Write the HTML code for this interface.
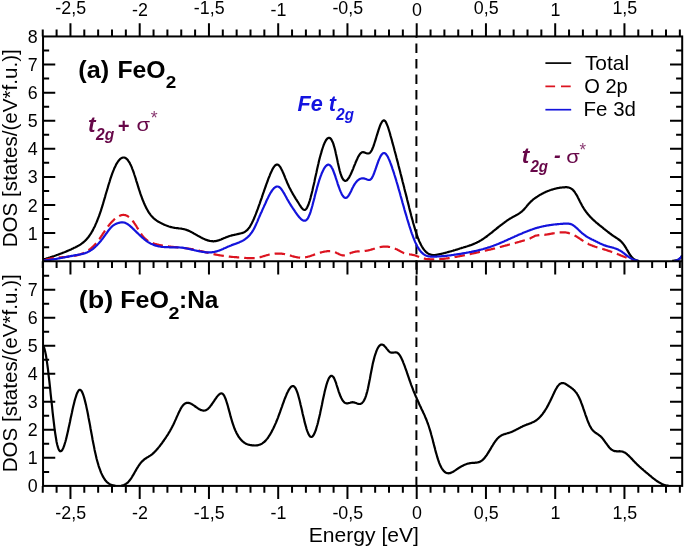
<!DOCTYPE html>
<html><head><meta charset="utf-8"><title>DOS FeO2</title>
<style>
html,body{margin:0;padding:0;background:#fff;}
body{width:685px;height:549px;overflow:hidden;}
svg{display:block;}
text{font-family:"Liberation Sans",sans-serif;fill:#000;}
.tk text{font-size:18.3px;}
.bi{font-weight:bold;font-style:italic;}
</style></head><body>
<svg width="685" height="549" viewBox="0 0 685 549">
<rect width="685" height="549" fill="#fff"/>
<!-- dashed fermi line -->
<path d="M416.4,36.45 V485.9" stroke="#000" stroke-width="2" stroke-dasharray="9.6 5.873" stroke-dashoffset="8.4" fill="none"/>
<!-- curves panel a -->
<g fill="none" stroke-width="2.2" stroke-linejoin="round">
<path d="M43.6,259.3 L44.3,259.2 L44.9,259.0 L45.6,258.8 L46.3,258.6 L46.9,258.4 L47.6,258.2 L48.3,257.9 L48.9,257.7 L49.6,257.5 L50.3,257.3 L50.9,257.1 L51.6,256.9 L52.3,256.7 L52.9,256.4 L53.6,256.2 L54.3,256.0 L54.9,255.8 L55.6,255.5 L56.3,255.3 L56.9,255.0 L57.6,254.8 L58.3,254.6 L58.9,254.3 L59.6,254.1 L60.3,253.8 L60.9,253.6 L61.6,253.3 L62.3,253.1 L62.9,252.8 L63.6,252.5 L64.3,252.3 L65.0,252.0 L65.6,251.7 L66.3,251.4 L67.0,251.1 L67.6,250.9 L68.3,250.6 L69.0,250.3 L69.6,250.0 L70.3,249.7 L71.0,249.4 L71.6,249.1 L72.3,248.8 L73.0,248.5 L73.6,248.1 L74.3,247.8 L75.0,247.5 L75.6,247.2 L76.3,246.8 L77.0,246.5 L77.6,246.1 L78.3,245.8 L79.0,245.4 L79.6,245.0 L80.3,244.6 L81.0,244.1 L81.6,243.7 L82.3,243.2 L83.0,242.7 L83.6,242.1 L84.3,241.5 L85.0,240.9 L85.6,240.3 L86.3,239.6 L87.0,238.8 L87.6,238.0 L88.3,237.2 L89.0,236.3 L89.6,235.4 L90.3,234.4 L91.0,233.4 L91.6,232.3 L92.3,231.1 L93.0,229.9 L93.6,228.6 L94.3,227.3 L95.0,225.9 L95.6,224.4 L96.3,222.9 L97.0,221.3 L97.6,219.7 L98.3,217.9 L99.0,216.2 L99.6,214.3 L100.3,212.4 L101.0,210.4 L101.6,208.3 L102.3,206.1 L103.0,203.9 L103.6,201.7 L104.3,199.4 L105.0,197.1 L105.6,194.8 L106.3,192.5 L107.0,190.2 L107.7,187.9 L108.3,185.7 L109.0,183.5 L109.7,181.3 L110.3,179.2 L111.0,177.2 L111.7,175.2 L112.3,173.4 L113.0,171.6 L113.7,169.9 L114.3,168.3 L115.0,166.9 L115.7,165.5 L116.3,164.2 L117.0,163.1 L117.7,162.0 L118.3,161.1 L119.0,160.2 L119.7,159.5 L120.3,158.9 L121.0,158.4 L121.7,158.0 L122.3,157.7 L123.0,157.5 L123.7,157.5 L124.3,157.6 L125.0,157.8 L125.7,158.1 L126.3,158.6 L127.0,159.2 L127.7,159.9 L128.3,160.8 L129.0,161.8 L129.7,162.9 L130.3,164.2 L131.0,165.6 L131.7,167.1 L132.3,168.8 L133.0,170.6 L133.7,172.5 L134.3,174.5 L135.0,176.5 L135.7,178.6 L136.3,180.8 L137.0,182.9 L137.7,185.1 L138.3,187.2 L139.0,189.4 L139.7,191.4 L140.3,193.4 L141.0,195.3 L141.7,197.2 L142.3,199.0 L143.0,200.7 L143.7,202.3 L144.3,203.8 L145.0,205.3 L145.7,206.7 L146.3,208.1 L147.0,209.3 L147.7,210.5 L148.3,211.6 L149.0,212.7 L149.7,213.6 L150.4,214.6 L151.0,215.4 L151.7,216.2 L152.4,216.9 L153.0,217.6 L153.7,218.3 L154.4,218.8 L155.0,219.4 L155.7,219.9 L156.4,220.4 L157.0,220.8 L157.7,221.3 L158.4,221.7 L159.0,222.0 L159.7,222.4 L160.4,222.8 L161.0,223.1 L161.7,223.4 L162.4,223.8 L163.0,224.1 L163.7,224.4 L164.4,224.7 L165.0,225.0 L165.7,225.3 L166.4,225.5 L167.0,225.8 L167.7,226.0 L168.4,226.3 L169.0,226.5 L169.7,226.7 L170.4,226.9 L171.0,227.1 L171.7,227.2 L172.4,227.4 L173.0,227.5 L173.7,227.7 L174.4,227.8 L175.0,227.9 L175.7,228.0 L176.4,228.1 L177.0,228.1 L177.7,228.2 L178.4,228.3 L179.0,228.4 L179.7,228.5 L180.4,228.5 L181.0,228.6 L181.7,228.7 L182.4,228.9 L183.0,229.0 L183.7,229.1 L184.4,229.3 L185.0,229.5 L185.7,229.6 L186.4,229.9 L187.0,230.1 L187.7,230.4 L188.4,230.6 L189.0,230.9 L189.7,231.3 L190.4,231.6 L191.0,231.9 L191.7,232.3 L192.4,232.6 L193.1,233.0 L193.7,233.4 L194.4,233.7 L195.1,234.1 L195.7,234.5 L196.4,234.9 L197.1,235.3 L197.7,235.7 L198.4,236.0 L199.1,236.4 L199.7,236.8 L200.4,237.1 L201.1,237.5 L201.7,237.8 L202.4,238.2 L203.1,238.5 L203.7,238.8 L204.4,239.1 L205.1,239.4 L205.7,239.7 L206.4,239.9 L207.1,240.1 L207.7,240.4 L208.4,240.6 L209.1,240.7 L209.7,240.9 L210.4,241.0 L211.1,241.1 L211.7,241.2 L212.4,241.2 L213.1,241.3 L213.7,241.3 L214.4,241.2 L215.1,241.1 L215.7,241.1 L216.4,240.9 L217.1,240.8 L217.7,240.6 L218.4,240.4 L219.1,240.2 L219.7,239.9 L220.4,239.7 L221.1,239.4 L221.7,239.1 L222.4,238.9 L223.1,238.6 L223.7,238.3 L224.4,238.0 L225.1,237.7 L225.7,237.4 L226.4,237.2 L227.1,236.9 L227.7,236.7 L228.4,236.4 L229.1,236.2 L229.7,236.0 L230.4,235.8 L231.1,235.6 L231.7,235.4 L232.4,235.3 L233.1,235.1 L233.7,235.0 L234.4,234.8 L235.1,234.7 L235.8,234.5 L236.4,234.4 L237.1,234.2 L237.8,234.1 L238.4,233.9 L239.1,233.8 L239.8,233.6 L240.4,233.5 L241.1,233.3 L241.8,233.1 L242.4,232.9 L243.1,232.7 L243.8,232.4 L244.4,232.1 L245.1,231.7 L245.8,231.2 L246.4,230.7 L247.1,230.1 L247.8,229.4 L248.4,228.6 L249.1,227.8 L249.8,226.8 L250.4,225.7 L251.1,224.5 L251.8,223.3 L252.4,221.9 L253.1,220.5 L253.8,219.0 L254.4,217.5 L255.1,215.9 L255.8,214.2 L256.4,212.5 L257.1,210.7 L257.8,208.9 L258.4,207.1 L259.1,205.2 L259.8,203.3 L260.4,201.4 L261.1,199.5 L261.8,197.6 L262.4,195.6 L263.1,193.7 L263.8,191.7 L264.4,189.8 L265.1,187.9 L265.8,186.0 L266.4,184.1 L267.1,182.3 L267.8,180.5 L268.4,178.7 L269.1,177.0 L269.8,175.3 L270.4,173.7 L271.1,172.2 L271.8,170.8 L272.4,169.4 L273.1,168.2 L273.8,167.2 L274.4,166.2 L275.1,165.5 L275.8,165.0 L276.4,164.6 L277.1,164.5 L277.8,164.6 L278.5,165.0 L279.1,165.6 L279.8,166.4 L280.5,167.4 L281.1,168.6 L281.8,169.9 L282.5,171.3 L283.1,172.8 L283.8,174.3 L284.5,176.0 L285.1,177.6 L285.8,179.3 L286.5,180.9 L287.1,182.5 L287.8,184.0 L288.5,185.5 L289.1,186.9 L289.8,188.2 L290.5,189.5 L291.1,190.8 L291.8,192.0 L292.5,193.2 L293.1,194.4 L293.8,195.5 L294.5,196.6 L295.1,197.7 L295.8,198.8 L296.5,199.8 L297.1,200.9 L297.8,201.9 L298.5,203.0 L299.1,204.0 L299.8,205.1 L300.5,206.1 L301.1,207.1 L301.8,208.0 L302.5,208.8 L303.1,209.4 L303.8,209.8 L304.5,210.0 L305.1,209.9 L305.8,209.4 L306.5,208.6 L307.1,207.5 L307.8,206.1 L308.5,204.5 L309.1,202.6 L309.8,200.5 L310.5,198.1 L311.1,195.6 L311.8,193.0 L312.5,190.2 L313.1,187.3 L313.8,184.4 L314.5,181.4 L315.1,178.3 L315.8,175.2 L316.5,172.2 L317.1,169.2 L317.8,166.2 L318.5,163.3 L319.1,160.5 L319.8,157.8 L320.5,155.3 L321.2,152.9 L321.8,150.6 L322.5,148.5 L323.2,146.5 L323.8,144.7 L324.5,143.1 L325.2,141.7 L325.8,140.5 L326.5,139.5 L327.2,138.7 L327.8,138.2 L328.5,137.9 L329.2,137.8 L329.8,138.0 L330.5,138.5 L331.2,139.3 L331.8,140.4 L332.5,141.8 L333.2,143.4 L333.8,145.4 L334.5,147.8 L335.2,150.4 L335.8,153.3 L336.5,156.3 L337.2,159.4 L337.8,162.5 L338.5,165.5 L339.2,168.4 L339.8,171.0 L340.5,173.4 L341.2,175.4 L341.8,177.1 L342.5,178.4 L343.2,179.5 L343.8,180.2 L344.5,180.7 L345.2,180.9 L345.8,180.8 L346.5,180.5 L347.2,180.0 L347.8,179.2 L348.5,178.3 L349.2,177.3 L349.8,176.0 L350.5,174.7 L351.2,173.3 L351.8,171.8 L352.5,170.2 L353.2,168.6 L353.8,166.9 L354.5,165.3 L355.2,163.6 L355.8,162.0 L356.5,160.5 L357.2,159.0 L357.8,157.6 L358.5,156.3 L359.2,155.2 L359.8,154.2 L360.5,153.4 L361.2,152.8 L361.8,152.4 L362.5,152.2 L363.2,152.2 L363.9,152.3 L364.5,152.4 L365.2,152.7 L365.9,153.0 L366.5,153.2 L367.2,153.4 L367.9,153.5 L368.5,153.5 L369.2,153.3 L369.9,152.8 L370.5,152.2 L371.2,151.2 L371.9,150.0 L372.5,148.5 L373.2,146.9 L373.9,145.0 L374.5,143.0 L375.2,140.9 L375.9,138.7 L376.5,136.5 L377.2,134.3 L377.9,132.2 L378.5,130.1 L379.2,128.1 L379.9,126.2 L380.5,124.6 L381.2,123.2 L381.9,122.0 L382.5,121.1 L383.2,120.6 L383.9,120.4 L384.5,120.6 L385.2,121.2 L385.9,122.2 L386.5,123.5 L387.2,125.1 L387.9,126.8 L388.5,128.8 L389.2,131.0 L389.9,133.3 L390.5,135.6 L391.2,138.0 L391.9,140.4 L392.5,142.9 L393.2,145.3 L393.9,147.8 L394.5,150.3 L395.2,152.8 L395.9,155.3 L396.5,157.8 L397.2,160.4 L397.9,162.9 L398.5,165.5 L399.2,168.1 L399.9,170.7 L400.5,173.3 L401.2,175.9 L401.9,178.6 L402.5,181.2 L403.2,183.8 L403.9,186.5 L404.5,189.1 L405.2,191.8 L405.9,194.4 L406.6,197.1 L407.2,199.8 L407.9,202.4 L408.6,205.1 L409.2,207.7 L409.9,210.4 L410.6,213.0 L411.2,215.5 L411.9,218.1 L412.6,220.5 L413.2,223.0 L413.9,225.3 L414.6,227.6 L415.2,229.8 L415.9,232.0 L416.6,234.0 L417.2,236.0 L417.9,237.8 L418.6,239.5 L419.2,241.1 L419.9,242.6 L420.6,244.0 L421.2,245.3 L421.9,246.5 L422.6,247.6 L423.2,248.6 L423.9,249.5 L424.6,250.4 L425.2,251.1 L425.9,251.8 L426.6,252.4 L427.2,252.9 L427.9,253.4 L428.6,253.8 L429.2,254.1 L429.9,254.4 L430.6,254.6 L431.2,254.8 L431.9,254.9 L432.6,255.0 L433.2,255.0 L433.9,255.1 L434.6,255.0 L435.2,255.0 L435.9,254.9 L436.6,254.8 L437.2,254.7 L437.9,254.6 L438.6,254.4 L439.2,254.3 L439.9,254.1 L440.6,254.0 L441.2,253.8 L441.9,253.7 L442.6,253.5 L443.2,253.3 L443.9,253.2 L444.6,253.0 L445.2,252.8 L445.9,252.7 L446.6,252.5 L447.2,252.3 L447.9,252.1 L448.6,251.9 L449.3,251.7 L449.9,251.5 L450.6,251.4 L451.3,251.2 L451.9,251.0 L452.6,250.8 L453.3,250.6 L453.9,250.4 L454.6,250.2 L455.3,250.0 L455.9,249.8 L456.6,249.6 L457.3,249.4 L457.9,249.2 L458.6,249.0 L459.3,248.7 L459.9,248.5 L460.6,248.3 L461.3,248.1 L461.9,247.9 L462.6,247.7 L463.3,247.5 L463.9,247.3 L464.6,247.1 L465.3,246.9 L465.9,246.7 L466.6,246.5 L467.3,246.3 L467.9,246.1 L468.6,245.8 L469.3,245.6 L469.9,245.4 L470.6,245.2 L471.3,244.9 L471.9,244.7 L472.6,244.4 L473.3,244.1 L473.9,243.9 L474.6,243.6 L475.3,243.3 L475.9,243.0 L476.6,242.7 L477.3,242.3 L477.9,242.0 L478.6,241.7 L479.3,241.3 L479.9,240.9 L480.6,240.5 L481.3,240.1 L481.9,239.7 L482.6,239.3 L483.3,238.8 L483.9,238.4 L484.6,237.9 L485.3,237.4 L485.9,237.0 L486.6,236.5 L487.3,236.0 L487.9,235.5 L488.6,234.9 L489.3,234.4 L489.9,233.9 L490.6,233.4 L491.3,232.9 L492.0,232.3 L492.6,231.8 L493.3,231.2 L494.0,230.7 L494.6,230.2 L495.3,229.6 L496.0,229.1 L496.6,228.5 L497.3,228.0 L498.0,227.5 L498.6,226.9 L499.3,226.4 L500.0,225.9 L500.6,225.3 L501.3,224.8 L502.0,224.3 L502.6,223.8 L503.3,223.3 L504.0,222.8 L504.6,222.3 L505.3,221.8 L506.0,221.3 L506.6,220.9 L507.3,220.4 L508.0,220.0 L508.6,219.5 L509.3,219.1 L510.0,218.7 L510.6,218.2 L511.3,217.9 L512.0,217.5 L512.6,217.1 L513.3,216.7 L514.0,216.4 L514.6,216.0 L515.3,215.7 L516.0,215.3 L516.6,215.0 L517.3,214.6 L518.0,214.2 L518.6,213.8 L519.3,213.4 L520.0,212.9 L520.6,212.4 L521.3,211.9 L522.0,211.3 L522.6,210.7 L523.3,210.1 L524.0,209.4 L524.6,208.7 L525.3,207.9 L526.0,207.1 L526.6,206.3 L527.3,205.4 L528.0,204.7 L528.6,203.9 L529.3,203.2 L530.0,202.5 L530.6,201.8 L531.3,201.2 L532.0,200.6 L532.6,200.0 L533.3,199.4 L534.0,198.9 L534.7,198.4 L535.3,197.9 L536.0,197.5 L536.7,197.0 L537.3,196.6 L538.0,196.1 L538.7,195.7 L539.3,195.3 L540.0,194.9 L540.7,194.5 L541.3,194.2 L542.0,193.8 L542.7,193.5 L543.3,193.1 L544.0,192.8 L544.7,192.5 L545.3,192.1 L546.0,191.8 L546.7,191.6 L547.3,191.3 L548.0,191.0 L548.7,190.7 L549.3,190.5 L550.0,190.2 L550.7,190.0 L551.3,189.8 L552.0,189.6 L552.7,189.4 L553.3,189.2 L554.0,189.0 L554.7,188.8 L555.3,188.7 L556.0,188.5 L556.7,188.3 L557.3,188.2 L558.0,188.1 L558.7,188.0 L559.3,187.8 L560.0,187.7 L560.7,187.6 L561.3,187.6 L562.0,187.5 L562.7,187.4 L563.3,187.4 L564.0,187.3 L564.7,187.3 L565.3,187.2 L566.0,187.2 L566.7,187.2 L567.3,187.3 L568.0,187.4 L568.7,187.5 L569.3,187.7 L570.0,188.0 L570.7,188.3 L571.3,188.7 L572.0,189.1 L572.7,189.7 L573.3,190.4 L574.0,191.1 L574.7,192.0 L575.3,193.0 L576.0,194.1 L576.7,195.2 L577.4,196.4 L578.0,197.7 L578.7,199.0 L579.4,200.4 L580.0,201.7 L580.7,203.0 L581.4,204.3 L582.0,205.5 L582.7,206.7 L583.4,207.8 L584.0,208.8 L584.7,209.8 L585.4,210.8 L586.0,211.7 L586.7,212.6 L587.4,213.5 L588.0,214.3 L588.7,215.1 L589.4,215.8 L590.0,216.6 L590.7,217.3 L591.4,218.0 L592.0,218.6 L592.7,219.3 L593.4,219.9 L594.0,220.5 L594.7,221.2 L595.4,221.7 L596.0,222.3 L596.7,222.9 L597.4,223.4 L598.0,224.0 L598.7,224.5 L599.4,225.1 L600.0,225.6 L600.7,226.1 L601.4,226.7 L602.0,227.2 L602.7,227.7 L603.4,228.3 L604.0,228.8 L604.7,229.3 L605.4,229.9 L606.0,230.4 L606.7,230.9 L607.4,231.5 L608.0,232.0 L608.7,232.5 L609.4,233.0 L610.0,233.5 L610.7,234.0 L611.4,234.5 L612.0,235.0 L612.7,235.5 L613.4,235.9 L614.0,236.4 L614.7,236.8 L615.4,237.2 L616.0,237.7 L616.7,238.1 L617.4,238.5 L618.0,239.0 L618.7,239.5 L619.4,240.0 L620.1,240.5 L620.7,241.1 L621.4,241.8 L622.1,242.5 L622.7,243.3 L623.4,244.1 L624.1,245.0 L624.7,246.0 L625.4,247.0 L626.1,248.1 L626.7,249.2 L627.4,250.4 L628.1,251.6 L628.7,252.7 L629.4,253.8 L630.1,254.9 L630.7,255.8 L631.4,256.7 L632.1,257.4 L632.7,258.0 L633.4,258.6 L634.1,259.1 L634.7,259.5 L635.4,259.9 L636.1,260.2 L636.7,260.4 L637.4,260.7 L638.1,260.8 L638.7,261.0 L639.4,261.2 M672.1,260.9 L672.8,260.9 L673.4,260.8 L674.1,260.7 L674.8,260.6 L675.4,260.6 L676.1,260.4 L676.8,260.3 L677.4,260.1 L678.1,259.9 L678.8,259.5 L679.4,259.0 L680.1,258.4 L680.8,257.7 L681.4,256.8 L682.1,255.6" stroke="#000"/>
<path d="M43.6,260.5 L44.3,260.2 L44.9,260.0 L45.6,259.8 L46.3,259.6 L46.9,259.4 L47.6,259.2 L48.3,259.0 L48.9,258.9 L49.6,258.7 L50.3,258.6 L50.9,258.5 L51.6,258.4 L52.3,258.3 L52.9,258.1 L53.6,258.1 L54.3,258.0 L54.9,257.9 L55.6,257.8 L56.3,257.7 L56.9,257.7 L57.6,257.6 L58.3,257.5 L58.9,257.5 L59.6,257.4 L60.3,257.4 L60.9,257.3 L61.6,257.3 L62.3,257.2 L63.0,257.2 L63.6,257.1 L64.3,257.1 L65.0,257.0 L65.6,257.0 L66.3,256.9 L67.0,256.9 L67.6,256.8 L68.3,256.7 L69.0,256.7 L69.6,256.6 L70.3,256.5 L71.0,256.4 L71.6,256.3 L72.3,256.2 L73.0,256.1 L73.6,256.0 L74.3,255.9 L75.0,255.7 L75.6,255.6 L76.3,255.4 L77.0,255.3 L77.6,255.1 L78.3,254.9 L79.0,254.7 L79.6,254.5 L80.3,254.3 L81.0,254.0 L81.6,253.8 L82.3,253.5 L83.0,253.2 L83.6,252.9 L84.3,252.6 L85.0,252.3 L85.6,251.9 L86.3,251.5 L87.0,251.2 L87.6,250.7 L88.3,250.3 L89.0,249.9 L89.6,249.4 L90.3,248.9 L91.0,248.3 L91.6,247.8 L92.3,247.2 L93.0,246.6 L93.6,245.9 L94.3,245.2 L95.0,244.5 L95.6,243.8 L96.3,243.0 L97.0,242.2 L97.6,241.3 L98.3,240.4 L99.0,239.5 L99.7,238.6 L100.3,237.6 L101.0,236.7 L101.7,235.7 L102.3,234.7 L103.0,233.7 L103.7,232.7 L104.3,231.7 L105.0,230.7 L105.7,229.7 L106.3,228.8 L107.0,227.8 L107.7,226.9 L108.3,226.0 L109.0,225.2 L109.7,224.3 L110.3,223.6 L111.0,222.8 L111.7,222.1 L112.3,221.4 L113.0,220.7 L113.7,220.0 L114.3,219.4 L115.0,218.9 L115.7,218.3 L116.3,217.8 L117.0,217.4 L117.7,216.9 L118.3,216.5 L119.0,216.2 L119.7,215.8 L120.3,215.6 L121.0,215.3 L121.7,215.1 L122.3,215.0 L123.0,214.9 L123.7,214.9 L124.3,215.0 L125.0,215.1 L125.7,215.2 L126.3,215.5 L127.0,215.8 L127.7,216.2 L128.3,216.6 L129.0,217.1 L129.7,217.7 L130.3,218.3 L131.0,219.0 L131.7,219.7 L132.3,220.5 L133.0,221.3 L133.7,222.2 L134.3,223.1 L135.0,224.1 L135.7,225.2 L136.4,226.2 L137.0,227.3 L137.7,228.4 L138.4,229.5 L139.0,230.6 L139.7,231.7 L140.4,232.7 L141.0,233.7 L141.7,234.7 L142.4,235.6 L143.0,236.5 L143.7,237.2 L144.4,237.9 L145.0,238.6 L145.7,239.1 L146.4,239.7 L147.0,240.1 L147.7,240.6 L148.4,241.0 L149.0,241.4 L149.7,241.7 L150.4,242.1 L151.0,242.4 L151.7,242.7 L152.4,242.9 L153.0,243.2 L153.7,243.4 L154.4,243.7 L155.0,243.9 L155.7,244.1 L156.4,244.2 L157.0,244.4 L157.7,244.6 L158.4,244.7 L159.0,244.9 L159.7,245.0 L160.4,245.2 L161.0,245.3 L161.7,245.4 L162.4,245.5 L163.0,245.6 L163.7,245.7 L164.4,245.8 L165.0,245.9 L165.7,246.0 L166.4,246.1 L167.0,246.2 L167.7,246.3 L168.4,246.4 L169.0,246.5 L169.7,246.5 L170.4,246.6 L171.0,246.7 L171.7,246.8 L172.4,246.8 L173.1,246.9 L173.7,247.0 L174.4,247.0 L175.1,247.1 L175.7,247.2 L176.4,247.2 L177.1,247.3 L177.7,247.4 L178.4,247.4 L179.1,247.5 L179.7,247.6 L180.4,247.6 L181.1,247.7 L181.7,247.8 L182.4,247.8 L183.1,247.9 L183.7,248.0 L184.4,248.1 L185.1,248.1 L185.7,248.2 L186.4,248.3 L187.1,248.4 L187.7,248.5 L188.4,248.6 L189.1,248.7 L189.7,248.8 L190.4,248.9 L191.1,249.0 L191.7,249.1 L192.4,249.2 L193.1,249.3 L193.7,249.5 L194.4,249.6 L195.1,249.7 L195.7,249.9 L196.4,250.0 L197.1,250.2 L197.7,250.3 L198.4,250.5 L199.1,250.6 L199.7,250.8 L200.4,251.0 L201.1,251.1 L201.7,251.3 L202.4,251.4 L203.1,251.6 L203.7,251.8 L204.4,251.9 L205.1,252.1 L205.7,252.3 L206.4,252.4 L207.1,252.6 L207.7,252.8 L208.4,252.9 L209.1,253.1 L209.8,253.3 L210.4,253.4 L211.1,253.6 L211.8,253.7 L212.4,253.9 L213.1,254.0 L213.8,254.2 L214.4,254.3 L215.1,254.4 L215.8,254.6 L216.4,254.7 L217.1,254.8 L217.8,255.0 L218.4,255.1 L219.1,255.2 L219.8,255.3 L220.4,255.4 L221.1,255.5 L221.8,255.6 L222.4,255.7 L223.1,255.8 L223.8,255.9 L224.4,256.0 L225.1,256.1 L225.8,256.2 L226.4,256.2 L227.1,256.3 L227.8,256.4 L228.4,256.5 L229.1,256.6 L229.8,256.6 L230.4,256.7 L231.1,256.8 L231.8,256.8 L232.4,256.9 L233.1,257.0 L233.8,257.0 L234.4,257.1 L235.1,257.1 L235.8,257.2 L236.4,257.2 L237.1,257.3 L237.8,257.4 L238.4,257.4 L239.1,257.5 L239.8,257.5 L240.4,257.6 L241.1,257.6 L241.8,257.7 L242.4,257.7 L243.1,257.8 L243.8,257.8 L244.4,257.9 L245.1,257.9 L245.8,258.0 L246.5,258.0 L247.1,258.1 L247.8,258.1 L248.5,258.1 L249.1,258.2 L249.8,258.2 L250.5,258.2 L251.1,258.2 L251.8,258.2 L252.5,258.2 L253.1,258.2 L253.8,258.2 L254.5,258.1 L255.1,258.1 L255.8,258.0 L256.5,257.9 L257.1,257.8 L257.8,257.7 L258.5,257.6 L259.1,257.5 L259.8,257.3 L260.5,257.1 L261.1,256.9 L261.8,256.7 L262.5,256.5 L263.1,256.3 L263.8,256.1 L264.5,255.9 L265.1,255.7 L265.8,255.5 L266.5,255.3 L267.1,255.1 L267.8,255.0 L268.5,254.8 L269.1,254.6 L269.8,254.5 L270.5,254.4 L271.1,254.2 L271.8,254.1 L272.5,254.0 L273.1,253.9 L273.8,253.8 L274.5,253.8 L275.1,253.7 L275.8,253.7 L276.5,253.6 L277.1,253.6 L277.8,253.6 L278.5,253.6 L279.1,253.6 L279.8,253.6 L280.5,253.6 L281.1,253.7 L281.8,253.7 L282.5,253.8 L283.2,253.9 L283.8,254.0 L284.5,254.1 L285.2,254.3 L285.8,254.4 L286.5,254.6 L287.2,254.7 L287.8,254.9 L288.5,255.1 L289.2,255.3 L289.8,255.4 L290.5,255.6 L291.2,255.8 L291.8,256.0 L292.5,256.2 L293.2,256.4 L293.8,256.6 L294.5,256.7 L295.2,256.9 L295.8,257.0 L296.5,257.2 L297.2,257.3 L297.8,257.4 L298.5,257.5 L299.2,257.6 L299.8,257.6 L300.5,257.7 L301.2,257.7 L301.8,257.6 L302.5,257.6 L303.2,257.6 L303.8,257.5 L304.5,257.4 L305.2,257.3 L305.8,257.2 L306.5,257.0 L307.2,256.9 L307.8,256.7 L308.5,256.5 L309.2,256.4 L309.8,256.2 L310.5,256.0 L311.2,255.7 L311.8,255.5 L312.5,255.3 L313.2,255.1 L313.8,254.8 L314.5,254.6 L315.2,254.4 L315.8,254.1 L316.5,253.9 L317.2,253.7 L317.8,253.4 L318.5,253.2 L319.2,253.0 L319.9,252.8 L320.5,252.6 L321.2,252.4 L321.9,252.2 L322.5,252.0 L323.2,251.9 L323.9,251.7 L324.5,251.6 L325.2,251.5 L325.9,251.4 L326.5,251.3 L327.2,251.2 L327.9,251.2 L328.5,251.2 L329.2,251.1 L329.9,251.2 L330.5,251.2 L331.2,251.3 L331.9,251.4 L332.5,251.5 L333.2,251.6 L333.9,251.8 L334.5,252.0 L335.2,252.3 L335.9,252.6 L336.5,252.9 L337.2,253.2 L337.9,253.5 L338.5,253.8 L339.2,254.2 L339.9,254.5 L340.5,254.7 L341.2,255.0 L341.9,255.2 L342.5,255.3 L343.2,255.4 L343.9,255.4 L344.5,255.3 L345.2,255.2 L345.9,255.0 L346.5,254.8 L347.2,254.5 L347.9,254.2 L348.5,254.0 L349.2,253.7 L349.9,253.4 L350.5,253.1 L351.2,252.8 L351.9,252.6 L352.5,252.4 L353.2,252.2 L353.9,252.0 L354.5,251.9 L355.2,251.7 L355.9,251.6 L356.6,251.5 L357.2,251.4 L357.9,251.4 L358.6,251.3 L359.2,251.3 L359.9,251.2 L360.6,251.2 L361.2,251.1 L361.9,251.1 L362.6,251.0 L363.2,251.0 L363.9,251.0 L364.6,250.9 L365.2,250.8 L365.9,250.8 L366.6,250.7 L367.2,250.6 L367.9,250.5 L368.6,250.3 L369.2,250.2 L369.9,250.0 L370.6,249.8 L371.2,249.6 L371.9,249.4 L372.6,249.2 L373.2,249.0 L373.9,248.8 L374.6,248.6 L375.2,248.4 L375.9,248.1 L376.6,247.9 L377.2,247.7 L377.9,247.6 L378.6,247.4 L379.2,247.2 L379.9,247.1 L380.6,247.0 L381.2,246.9 L381.9,246.8 L382.6,246.7 L383.2,246.6 L383.9,246.6 L384.6,246.6 L385.2,246.6 L385.9,246.6 L386.6,246.6 L387.2,246.6 L387.9,246.7 L388.6,246.8 L389.2,246.9 L389.9,247.0 L390.6,247.1 L391.3,247.3 L391.9,247.5 L392.6,247.7 L393.3,247.9 L393.9,248.1 L394.6,248.4 L395.3,248.7 L395.9,249.0 L396.6,249.3 L397.3,249.6 L397.9,250.0 L398.6,250.3 L399.3,250.7 L399.9,251.1 L400.6,251.4 L401.3,251.8 L401.9,252.1 L402.6,252.4 L403.3,252.8 L403.9,253.1 L404.6,253.3 L405.3,253.6 L405.9,253.8 L406.6,254.0 L407.3,254.2 L407.9,254.3 L408.6,254.4 L409.3,254.4 L409.9,254.5 L410.6,254.5 L411.3,254.6 L411.9,254.7 L412.6,254.8 L413.3,255.0 L413.9,255.1 L414.6,255.3 L415.3,255.5 L415.9,255.7 L416.6,256.0 L417.3,256.3 L417.9,256.5 L418.6,256.8 L419.3,257.1 L419.9,257.4 L420.6,257.6 L421.3,257.9 L421.9,258.1 L422.6,258.3 L423.3,258.5 L423.9,258.6 L424.6,258.7 L425.3,258.8 L425.9,258.9 L426.6,259.0 L427.3,259.1 L428.0,259.1 L428.6,259.2 L429.3,259.2 L430.0,259.3 L430.6,259.3 L431.3,259.3 L432.0,259.4 L432.6,259.4 L433.3,259.4 L434.0,259.4 L434.6,259.4 L435.3,259.4 L436.0,259.4 L436.6,259.3 L437.3,259.3 L438.0,259.3 L438.6,259.2 L439.3,259.2 L440.0,259.2 L440.6,259.1 L441.3,259.0 L442.0,259.0 L442.6,258.9 L443.3,258.8 L444.0,258.8 L444.6,258.7 L445.3,258.6 L446.0,258.5 L446.6,258.4 L447.3,258.4 L448.0,258.3 L448.6,258.2 L449.3,258.1 L450.0,258.0 L450.6,257.8 L451.3,257.7 L452.0,257.6 L452.6,257.5 L453.3,257.4 L454.0,257.3 L454.6,257.1 L455.3,257.0 L456.0,256.9 L456.6,256.8 L457.3,256.6 L458.0,256.5 L458.6,256.4 L459.3,256.3 L460.0,256.1 L460.6,256.0 L461.3,255.9 L462.0,255.7 L462.6,255.6 L463.3,255.4 L464.0,255.3 L464.7,255.2 L465.3,255.0 L466.0,254.9 L466.7,254.8 L467.3,254.6 L468.0,254.5 L468.7,254.3 L469.3,254.2 L470.0,254.1 L470.7,253.9 L471.3,253.8 L472.0,253.6 L472.7,253.5 L473.3,253.3 L474.0,253.2 L474.7,253.1 L475.3,252.9 L476.0,252.8 L476.7,252.6 L477.3,252.5 L478.0,252.3 L478.7,252.2 L479.3,252.0 L480.0,251.9 L480.7,251.7 L481.3,251.6 L482.0,251.4 L482.7,251.3 L483.3,251.1 L484.0,251.0 L484.7,250.8 L485.3,250.7 L486.0,250.5 L486.7,250.3 L487.3,250.2 L488.0,250.0 L488.7,249.9 L489.3,249.7 L490.0,249.6 L490.7,249.4 L491.3,249.2 L492.0,249.1 L492.7,248.9 L493.3,248.7 L494.0,248.6 L494.7,248.4 L495.3,248.2 L496.0,248.1 L496.7,247.9 L497.3,247.7 L498.0,247.6 L498.7,247.4 L499.3,247.2 L500.0,247.0 L500.7,246.9 L501.4,246.7 L502.0,246.5 L502.7,246.3 L503.4,246.2 L504.0,246.0 L504.7,245.8 L505.4,245.6 L506.0,245.4 L506.7,245.3 L507.4,245.1 L508.0,244.9 L508.7,244.7 L509.4,244.5 L510.0,244.4 L510.7,244.2 L511.4,244.0 L512.0,243.8 L512.7,243.6 L513.4,243.4 L514.0,243.3 L514.7,243.1 L515.4,242.9 L516.0,242.7 L516.7,242.5 L517.4,242.3 L518.0,242.2 L518.7,242.0 L519.4,241.8 L520.0,241.6 L520.7,241.4 L521.4,241.2 L522.0,241.0 L522.7,240.8 L523.4,240.7 L524.0,240.5 L524.7,240.3 L525.4,240.1 L526.0,239.9 L526.7,239.7 L527.4,239.5 L528.0,239.3 L528.7,239.0 L529.4,238.8 L530.0,238.5 L530.7,238.1 L531.4,237.8 L532.0,237.4 L532.7,237.0 L533.4,236.7 L534.0,236.4 L534.7,236.1 L535.4,235.8 L536.0,235.6 L536.7,235.5 L537.4,235.4 L538.1,235.3 L538.7,235.2 L539.4,235.1 L540.1,235.1 L540.7,235.0 L541.4,235.0 L542.1,235.0 L542.7,235.0 L543.4,234.9 L544.1,234.8 L544.7,234.8 L545.4,234.7 L546.1,234.6 L546.7,234.5 L547.4,234.4 L548.1,234.3 L548.7,234.2 L549.4,234.1 L550.1,233.9 L550.7,233.8 L551.4,233.7 L552.1,233.6 L552.7,233.4 L553.4,233.3 L554.1,233.2 L554.7,233.1 L555.4,233.0 L556.1,232.9 L556.7,232.8 L557.4,232.7 L558.1,232.6 L558.7,232.5 L559.4,232.4 L560.1,232.4 L560.7,232.3 L561.4,232.3 L562.1,232.3 L562.7,232.3 L563.4,232.3 L564.1,232.3 L564.7,232.4 L565.4,232.4 L566.1,232.5 L566.7,232.6 L567.4,232.8 L568.1,232.9 L568.7,233.1 L569.4,233.3 L570.1,233.5 L570.7,233.7 L571.4,234.0 L572.1,234.3 L572.7,234.6 L573.4,234.9 L574.1,235.2 L574.8,235.6 L575.4,235.9 L576.1,236.3 L576.8,236.7 L577.4,237.1 L578.1,237.5 L578.8,238.0 L579.4,238.4 L580.1,238.9 L580.8,239.3 L581.4,239.8 L582.1,240.2 L582.8,240.7 L583.4,241.1 L584.1,241.6 L584.8,242.0 L585.4,242.4 L586.1,242.8 L586.8,243.1 L587.4,243.5 L588.1,243.8 L588.8,244.2 L589.4,244.5 L590.1,244.8 L590.8,245.1 L591.4,245.3 L592.1,245.6 L592.8,245.9 L593.4,246.1 L594.1,246.3 L594.8,246.6 L595.4,246.8 L596.1,247.0 L596.8,247.2 L597.4,247.4 L598.1,247.6 L598.8,247.8 L599.4,248.0 L600.1,248.2 L600.8,248.4 L601.4,248.6 L602.1,248.8 L602.8,249.0 L603.4,249.2 L604.1,249.4 L604.8,249.6 L605.4,249.8 L606.1,250.0 L606.8,250.2 L607.4,250.4 L608.1,250.7 L608.8,250.9 L609.4,251.1 L610.1,251.3 L610.8,251.6 L611.5,251.8 L612.1,252.1 L612.8,252.3 L613.5,252.6 L614.1,252.8 L614.8,253.1 L615.5,253.3 L616.1,253.6 L616.8,253.8 L617.5,254.1 L618.1,254.3 L618.8,254.6 L619.5,254.9 L620.1,255.1 L620.8,255.4 L621.5,255.7 L622.1,255.9 L622.8,256.2 L623.5,256.5 L624.1,256.7 L624.8,257.0 L625.5,257.2 L626.1,257.5 L626.8,257.8 L627.5,258.0 L628.1,258.3 L628.8,258.5 L629.5,258.8 L630.1,259.1 L630.8,259.3 L631.5,259.5 L632.1,259.8 L632.8,260.0 L633.5,260.3 L634.1,260.5 L634.8,260.7 L635.5,261.0" stroke="#dc1420" stroke-dasharray="10.5 5"/>
<path d="M43.6,260.4 L44.3,260.4 L44.9,260.4 L45.6,260.3 L46.3,260.3 L46.9,260.2 L47.6,260.1 L48.3,260.1 L48.9,260.0 L49.6,259.9 L50.3,259.8 L50.9,259.7 L51.6,259.6 L52.3,259.5 L52.9,259.4 L53.6,259.3 L54.3,259.2 L54.9,259.1 L55.6,259.0 L56.3,258.9 L56.9,258.8 L57.6,258.6 L58.3,258.5 L58.9,258.4 L59.6,258.3 L60.3,258.1 L60.9,258.0 L61.6,257.9 L62.3,257.8 L62.9,257.6 L63.6,257.5 L64.3,257.4 L65.0,257.2 L65.6,257.1 L66.3,257.0 L67.0,256.8 L67.6,256.7 L68.3,256.6 L69.0,256.4 L69.6,256.3 L70.3,256.2 L71.0,256.1 L71.6,255.9 L72.3,255.8 L73.0,255.7 L73.6,255.6 L74.3,255.4 L75.0,255.3 L75.6,255.2 L76.3,255.1 L77.0,255.0 L77.6,254.9 L78.3,254.8 L79.0,254.6 L79.6,254.5 L80.3,254.4 L81.0,254.2 L81.6,254.1 L82.3,253.9 L83.0,253.8 L83.6,253.6 L84.3,253.4 L85.0,253.2 L85.6,252.9 L86.3,252.7 L87.0,252.4 L87.6,252.1 L88.3,251.8 L89.0,251.4 L89.6,251.1 L90.3,250.7 L91.0,250.2 L91.6,249.8 L92.3,249.3 L93.0,248.8 L93.6,248.3 L94.3,247.7 L95.0,247.1 L95.6,246.5 L96.3,245.8 L97.0,245.2 L97.6,244.5 L98.3,243.8 L99.0,243.0 L99.6,242.3 L100.3,241.5 L101.0,240.7 L101.6,239.8 L102.3,239.0 L103.0,238.1 L103.6,237.2 L104.3,236.3 L105.0,235.4 L105.6,234.4 L106.3,233.5 L107.0,232.5 L107.7,231.6 L108.3,230.7 L109.0,229.8 L109.7,229.0 L110.3,228.2 L111.0,227.5 L111.7,226.8 L112.3,226.2 L113.0,225.7 L113.7,225.2 L114.3,224.8 L115.0,224.4 L115.7,224.0 L116.3,223.7 L117.0,223.4 L117.7,223.2 L118.3,223.0 L119.0,222.8 L119.7,222.7 L120.3,222.5 L121.0,222.4 L121.7,222.4 L122.3,222.4 L123.0,222.4 L123.7,222.5 L124.3,222.6 L125.0,222.8 L125.7,223.1 L126.3,223.4 L127.0,223.7 L127.7,224.1 L128.3,224.6 L129.0,225.1 L129.7,225.6 L130.3,226.2 L131.0,226.8 L131.7,227.4 L132.3,228.0 L133.0,228.7 L133.7,229.3 L134.3,230.0 L135.0,230.6 L135.7,231.3 L136.3,231.9 L137.0,232.6 L137.7,233.2 L138.3,233.8 L139.0,234.5 L139.7,235.1 L140.3,235.7 L141.0,236.4 L141.7,237.0 L142.3,237.6 L143.0,238.1 L143.7,238.7 L144.3,239.3 L145.0,239.8 L145.7,240.3 L146.3,240.8 L147.0,241.3 L147.7,241.8 L148.3,242.2 L149.0,242.6 L149.7,243.0 L150.4,243.4 L151.0,243.7 L151.7,244.0 L152.4,244.3 L153.0,244.6 L153.7,244.9 L154.4,245.1 L155.0,245.4 L155.7,245.6 L156.4,245.8 L157.0,246.0 L157.7,246.1 L158.4,246.3 L159.0,246.4 L159.7,246.5 L160.4,246.6 L161.0,246.7 L161.7,246.8 L162.4,246.9 L163.0,247.0 L163.7,247.0 L164.4,247.1 L165.0,247.1 L165.7,247.2 L166.4,247.2 L167.0,247.2 L167.7,247.2 L168.4,247.2 L169.0,247.2 L169.7,247.3 L170.4,247.3 L171.0,247.3 L171.7,247.3 L172.4,247.3 L173.0,247.3 L173.7,247.3 L174.4,247.3 L175.0,247.3 L175.7,247.3 L176.4,247.3 L177.0,247.3 L177.7,247.4 L178.4,247.4 L179.0,247.4 L179.7,247.5 L180.4,247.5 L181.0,247.6 L181.7,247.7 L182.4,247.7 L183.0,247.8 L183.7,247.9 L184.4,248.0 L185.0,248.1 L185.7,248.3 L186.4,248.4 L187.0,248.5 L187.7,248.7 L188.4,248.8 L189.0,249.0 L189.7,249.1 L190.4,249.3 L191.0,249.4 L191.7,249.6 L192.4,249.7 L193.1,249.9 L193.7,250.0 L194.4,250.2 L195.1,250.4 L195.7,250.5 L196.4,250.7 L197.1,250.8 L197.7,251.0 L198.4,251.1 L199.1,251.2 L199.7,251.4 L200.4,251.5 L201.1,251.6 L201.7,251.7 L202.4,251.8 L203.1,251.9 L203.7,252.0 L204.4,252.1 L205.1,252.2 L205.7,252.3 L206.4,252.3 L207.1,252.3 L207.7,252.4 L208.4,252.4 L209.1,252.4 L209.7,252.4 L210.4,252.4 L211.1,252.3 L211.7,252.3 L212.4,252.2 L213.1,252.1 L213.7,252.0 L214.4,251.9 L215.1,251.7 L215.7,251.6 L216.4,251.4 L217.1,251.2 L217.7,251.0 L218.4,250.8 L219.1,250.6 L219.7,250.3 L220.4,250.1 L221.1,249.8 L221.7,249.5 L222.4,249.2 L223.1,248.9 L223.7,248.6 L224.4,248.3 L225.1,248.0 L225.7,247.7 L226.4,247.4 L227.1,247.1 L227.7,246.8 L228.4,246.5 L229.1,246.3 L229.7,246.0 L230.4,245.7 L231.1,245.4 L231.7,245.1 L232.4,244.9 L233.1,244.6 L233.7,244.4 L234.4,244.2 L235.1,243.9 L235.8,243.7 L236.4,243.4 L237.1,243.2 L237.8,242.9 L238.4,242.7 L239.1,242.4 L239.8,242.1 L240.4,241.8 L241.1,241.5 L241.8,241.2 L242.4,240.8 L243.1,240.5 L243.8,240.1 L244.4,239.6 L245.1,239.2 L245.8,238.7 L246.4,238.2 L247.1,237.6 L247.8,237.0 L248.4,236.4 L249.1,235.7 L249.8,235.0 L250.4,234.2 L251.1,233.3 L251.8,232.4 L252.4,231.4 L253.1,230.3 L253.8,229.1 L254.4,227.9 L255.1,226.5 L255.8,225.1 L256.4,223.6 L257.1,222.1 L257.8,220.5 L258.4,218.9 L259.1,217.4 L259.8,215.8 L260.4,214.3 L261.1,212.8 L261.8,211.4 L262.4,209.9 L263.1,208.4 L263.8,206.9 L264.4,205.4 L265.1,204.0 L265.8,202.5 L266.4,201.0 L267.1,199.6 L267.8,198.2 L268.4,196.9 L269.1,195.6 L269.8,194.3 L270.4,193.1 L271.1,192.0 L271.8,191.0 L272.4,190.0 L273.1,189.2 L273.8,188.4 L274.4,187.8 L275.1,187.3 L275.8,186.9 L276.4,186.6 L277.1,186.5 L277.8,186.5 L278.5,186.7 L279.1,187.0 L279.8,187.5 L280.5,188.1 L281.1,188.9 L281.8,189.8 L282.5,190.8 L283.1,191.8 L283.8,192.9 L284.5,194.1 L285.1,195.3 L285.8,196.5 L286.5,197.8 L287.1,199.0 L287.8,200.1 L288.5,201.3 L289.1,202.4 L289.8,203.5 L290.5,204.6 L291.1,205.6 L291.8,206.7 L292.5,207.7 L293.1,208.7 L293.8,209.7 L294.5,210.7 L295.1,211.6 L295.8,212.6 L296.5,213.6 L297.1,214.5 L297.8,215.4 L298.5,216.3 L299.1,217.1 L299.8,217.8 L300.5,218.5 L301.1,219.1 L301.8,219.7 L302.5,220.1 L303.1,220.4 L303.8,220.7 L304.5,220.7 L305.1,220.7 L305.8,220.4 L306.5,219.9 L307.1,219.3 L307.8,218.3 L308.5,217.2 L309.1,215.7 L309.8,214.0 L310.5,212.1 L311.1,210.0 L311.8,207.7 L312.5,205.3 L313.1,202.8 L313.8,200.2 L314.5,197.6 L315.1,195.0 L315.8,192.4 L316.5,189.9 L317.1,187.4 L317.8,185.1 L318.5,182.8 L319.1,180.7 L319.8,178.6 L320.5,176.7 L321.2,174.9 L321.8,173.2 L322.5,171.7 L323.2,170.3 L323.8,169.0 L324.5,167.9 L325.2,166.9 L325.8,166.1 L326.5,165.5 L327.2,165.0 L327.8,164.7 L328.5,164.7 L329.2,164.8 L329.8,165.2 L330.5,165.8 L331.2,166.6 L331.8,167.7 L332.5,168.9 L333.2,170.5 L333.8,172.1 L334.5,174.0 L335.2,175.9 L335.8,177.9 L336.5,180.0 L337.2,182.0 L337.8,184.1 L338.5,186.0 L339.2,188.0 L339.8,189.7 L340.5,191.4 L341.2,192.9 L341.8,194.2 L342.5,195.4 L343.2,196.3 L343.8,197.1 L344.5,197.6 L345.2,197.9 L345.8,197.9 L346.5,197.7 L347.2,197.3 L347.8,196.6 L348.5,195.7 L349.2,194.6 L349.8,193.5 L350.5,192.2 L351.2,190.9 L351.8,189.5 L352.5,188.1 L353.2,186.8 L353.8,185.6 L354.5,184.4 L355.2,183.4 L355.8,182.5 L356.5,181.7 L357.2,180.9 L357.8,180.3 L358.5,179.8 L359.2,179.3 L359.8,179.0 L360.5,178.7 L361.2,178.5 L361.8,178.4 L362.5,178.3 L363.2,178.3 L363.9,178.4 L364.5,178.6 L365.2,178.8 L365.9,179.0 L366.5,179.3 L367.2,179.6 L367.9,179.8 L368.5,180.0 L369.2,180.0 L369.9,179.9 L370.5,179.5 L371.2,178.9 L371.9,178.0 L372.5,176.8 L373.2,175.4 L373.9,173.8 L374.5,172.0 L375.2,170.2 L375.9,168.2 L376.5,166.3 L377.2,164.3 L377.9,162.5 L378.5,160.7 L379.2,159.1 L379.9,157.6 L380.5,156.3 L381.2,155.2 L381.9,154.3 L382.5,153.7 L383.2,153.2 L383.9,153.0 L384.5,153.1 L385.2,153.4 L385.9,154.0 L386.5,154.8 L387.2,155.8 L387.9,157.0 L388.5,158.4 L389.2,159.9 L389.9,161.5 L390.5,163.2 L391.2,165.0 L391.9,166.9 L392.5,168.8 L393.2,170.8 L393.9,172.9 L394.5,175.0 L395.2,177.1 L395.9,179.3 L396.5,181.5 L397.2,183.8 L397.9,186.1 L398.5,188.4 L399.2,190.8 L399.9,193.1 L400.5,195.5 L401.2,197.9 L401.9,200.3 L402.5,202.6 L403.2,205.0 L403.9,207.4 L404.5,209.8 L405.2,212.1 L405.9,214.4 L406.6,216.7 L407.2,219.0 L407.9,221.2 L408.6,223.4 L409.2,225.5 L409.9,227.6 L410.6,229.7 L411.2,231.6 L411.9,233.6 L412.6,235.4 L413.2,237.2 L413.9,238.9 L414.6,240.6 L415.2,242.1 L415.9,243.6 L416.6,245.0 L417.2,246.3 L417.9,247.5 L418.6,248.5 L419.2,249.5 L419.9,250.5 L420.6,251.3 L421.2,252.1 L421.9,252.7 L422.6,253.3 L423.2,253.9 L423.9,254.4 L424.6,254.8 L425.2,255.2 L425.9,255.5 L426.6,255.7 L427.2,256.0 L427.9,256.2 L428.6,256.3 L429.2,256.4 L429.9,256.5 L430.6,256.6 L431.2,256.6 L431.9,256.6 L432.6,256.6 L433.2,256.6 L433.9,256.6 L434.6,256.6 L435.2,256.6 L435.9,256.6 L436.6,256.6 L437.2,256.5 L437.9,256.5 L438.6,256.5 L439.2,256.4 L439.9,256.4 L440.6,256.4 L441.2,256.3 L441.9,256.2 L442.6,256.2 L443.2,256.1 L443.9,256.1 L444.6,256.0 L445.2,255.9 L445.9,255.9 L446.6,255.8 L447.2,255.7 L447.9,255.6 L448.6,255.5 L449.3,255.5 L449.9,255.4 L450.6,255.3 L451.3,255.2 L451.9,255.1 L452.6,255.0 L453.3,254.9 L453.9,254.8 L454.6,254.7 L455.3,254.6 L455.9,254.5 L456.6,254.4 L457.3,254.3 L457.9,254.2 L458.6,254.1 L459.3,254.0 L459.9,253.9 L460.6,253.8 L461.3,253.7 L461.9,253.6 L462.6,253.4 L463.3,253.3 L463.9,253.2 L464.6,253.1 L465.3,253.0 L465.9,252.9 L466.6,252.7 L467.3,252.6 L467.9,252.5 L468.6,252.4 L469.3,252.2 L469.9,252.1 L470.6,252.0 L471.3,251.9 L471.9,251.7 L472.6,251.6 L473.3,251.4 L473.9,251.3 L474.6,251.1 L475.3,251.0 L475.9,250.9 L476.6,250.7 L477.3,250.5 L477.9,250.4 L478.6,250.2 L479.3,250.1 L479.9,249.9 L480.6,249.7 L481.3,249.5 L481.9,249.4 L482.6,249.2 L483.3,249.0 L483.9,248.8 L484.6,248.6 L485.3,248.4 L485.9,248.2 L486.6,248.0 L487.3,247.8 L487.9,247.6 L488.6,247.4 L489.3,247.2 L489.9,247.0 L490.6,246.7 L491.3,246.5 L492.0,246.3 L492.6,246.0 L493.3,245.8 L494.0,245.5 L494.6,245.3 L495.3,245.0 L496.0,244.8 L496.6,244.5 L497.3,244.2 L498.0,244.0 L498.6,243.7 L499.3,243.4 L500.0,243.1 L500.6,242.9 L501.3,242.6 L502.0,242.3 L502.6,242.0 L503.3,241.7 L504.0,241.4 L504.6,241.1 L505.3,240.8 L506.0,240.5 L506.6,240.2 L507.3,239.9 L508.0,239.6 L508.6,239.3 L509.3,239.0 L510.0,238.7 L510.6,238.4 L511.3,238.1 L512.0,237.8 L512.6,237.5 L513.3,237.2 L514.0,236.9 L514.6,236.6 L515.3,236.3 L516.0,236.0 L516.6,235.7 L517.3,235.4 L518.0,235.1 L518.6,234.8 L519.3,234.5 L520.0,234.2 L520.6,234.0 L521.3,233.7 L522.0,233.4 L522.6,233.1 L523.3,232.8 L524.0,232.5 L524.6,232.3 L525.3,232.0 L526.0,231.7 L526.6,231.5 L527.3,231.2 L528.0,230.9 L528.6,230.7 L529.3,230.4 L530.0,230.2 L530.6,229.9 L531.3,229.7 L532.0,229.5 L532.6,229.2 L533.3,229.0 L534.0,228.8 L534.7,228.6 L535.3,228.3 L536.0,228.1 L536.7,227.9 L537.3,227.7 L538.0,227.6 L538.7,227.4 L539.3,227.2 L540.0,227.0 L540.7,226.9 L541.3,226.7 L542.0,226.5 L542.7,226.4 L543.3,226.3 L544.0,226.1 L544.7,226.0 L545.3,225.9 L546.0,225.7 L546.7,225.6 L547.3,225.5 L548.0,225.4 L548.7,225.3 L549.3,225.2 L550.0,225.1 L550.7,225.0 L551.3,224.9 L552.0,224.8 L552.7,224.7 L553.3,224.6 L554.0,224.5 L554.7,224.5 L555.3,224.4 L556.0,224.3 L556.7,224.3 L557.3,224.2 L558.0,224.1 L558.7,224.1 L559.3,224.0 L560.0,224.0 L560.7,223.9 L561.3,223.9 L562.0,223.8 L562.7,223.8 L563.3,223.7 L564.0,223.7 L564.7,223.6 L565.3,223.6 L566.0,223.6 L566.7,223.6 L567.3,223.6 L568.0,223.6 L568.7,223.7 L569.3,223.8 L570.0,223.9 L570.7,224.1 L571.3,224.3 L572.0,224.6 L572.7,225.0 L573.3,225.4 L574.0,225.9 L574.7,226.4 L575.3,226.9 L576.0,227.5 L576.7,228.1 L577.4,228.7 L578.0,229.3 L578.7,230.0 L579.4,230.6 L580.0,231.2 L580.7,231.9 L581.4,232.5 L582.0,233.1 L582.7,233.7 L583.4,234.2 L584.0,234.7 L584.7,235.2 L585.4,235.7 L586.0,236.2 L586.7,236.6 L587.4,237.0 L588.0,237.4 L588.7,237.8 L589.4,238.1 L590.0,238.5 L590.7,238.8 L591.4,239.2 L592.0,239.5 L592.7,239.8 L593.4,240.1 L594.0,240.5 L594.7,240.8 L595.4,241.1 L596.0,241.5 L596.7,241.8 L597.4,242.1 L598.0,242.5 L598.7,242.8 L599.4,243.1 L600.0,243.4 L600.7,243.7 L601.4,244.0 L602.0,244.3 L602.7,244.6 L603.4,244.9 L604.0,245.2 L604.7,245.4 L605.4,245.6 L606.0,245.9 L606.7,246.1 L607.4,246.3 L608.0,246.5 L608.7,246.6 L609.4,246.8 L610.0,247.0 L610.7,247.1 L611.4,247.3 L612.0,247.5 L612.7,247.6 L613.4,247.8 L614.0,248.0 L614.7,248.2 L615.4,248.5 L616.0,248.7 L616.7,248.9 L617.4,249.2 L618.0,249.5 L618.7,249.9 L619.4,250.2 L620.1,250.6 L620.7,251.0 L621.4,251.4 L622.1,251.9 L622.7,252.4 L623.4,252.9 L624.1,253.4 L624.7,253.9 L625.4,254.5 L626.1,255.0 L626.7,255.5 L627.4,256.0 L628.1,256.5 L628.7,257.0 L629.4,257.4 L630.1,257.9 L630.7,258.3 L631.4,258.6 L632.1,258.9 L632.7,259.2 L633.4,259.5 L634.1,259.7 L634.7,260.0 L635.4,260.2 L636.1,260.3 L636.7,260.5 L637.4,260.6 L638.1,261.2 M674.1,261.0 L674.8,260.9 L675.4,260.8 L676.1,260.6 L676.8,260.4 L677.4,260.1 L678.1,259.7 L678.8,259.3 L679.4,258.7 L680.1,258.1 L680.8,257.5 L681.4,256.7 L682.1,255.8" stroke="#1414dc"/>
<path d="M43.3,346.2 L44.0,347.3 L44.6,349.3 L45.3,352.1 L46.0,355.5 L46.6,359.7 L47.3,364.4 L48.0,369.5 L48.6,375.1 L49.3,380.9 L50.0,387.1 L50.6,393.3 L51.3,399.6 L52.0,405.9 L52.6,412.1 L53.3,418.1 L54.0,423.8 L54.6,429.1 L55.3,434.0 L56.0,438.3 L56.6,442.0 L57.3,445.0 L58.0,447.4 L58.6,449.2 L59.3,450.4 L60.0,451.1 L60.6,451.3 L61.3,451.0 L62.0,450.4 L62.6,449.3 L63.3,447.9 L64.0,446.2 L64.6,444.2 L65.3,442.0 L66.0,439.5 L66.6,436.9 L67.3,434.0 L68.0,431.1 L68.6,428.0 L69.3,424.9 L70.0,421.7 L70.6,418.5 L71.3,415.4 L72.0,412.3 L72.6,409.2 L73.3,406.3 L74.0,403.5 L74.6,400.9 L75.3,398.5 L76.0,396.3 L76.6,394.4 L77.3,392.8 L78.0,391.5 L78.6,390.5 L79.3,389.9 L80.0,389.8 L80.6,390.0 L81.3,390.7 L82.0,391.8 L82.6,393.2 L83.3,395.0 L84.0,397.1 L84.6,399.4 L85.3,402.1 L86.0,404.9 L86.6,407.9 L87.3,411.1 L88.0,414.5 L88.6,418.0 L89.3,421.5 L90.0,425.1 L90.6,428.8 L91.3,432.5 L92.0,436.1 L92.6,439.7 L93.3,443.2 L94.0,446.6 L94.6,449.9 L95.3,453.0 L96.0,455.9 L96.6,458.7 L97.3,461.2 L98.0,463.6 L98.6,465.8 L99.3,467.8 L100.0,469.7 L100.6,471.5 L101.3,473.1 L102.0,474.6 L102.6,475.9 L103.3,477.1 L104.0,478.3 L104.6,479.3 L105.3,480.2 L106.0,481.0 L106.6,481.7 L107.3,482.4 L108.0,482.9 L108.6,483.4 L109.3,483.9 L110.0,484.3 L110.6,484.6 L111.3,484.9 L112.0,485.1 L112.6,485.3 L113.3,485.4 L114.0,485.5 L114.6,485.6 L115.3,485.9 M121.3,485.6 L122.0,485.5 L122.6,485.4 L123.3,485.2 L124.0,484.9 L124.6,484.6 L125.3,484.3 L126.0,483.9 L126.6,483.4 L127.3,482.9 L128.0,482.3 L128.6,481.6 L129.3,480.8 L130.0,480.0 L130.6,479.1 L131.3,478.1 L132.0,477.0 L132.6,475.9 L133.3,474.8 L134.0,473.7 L134.6,472.5 L135.3,471.3 L136.0,470.2 L136.6,469.0 L137.3,467.9 L138.0,466.8 L138.6,465.8 L139.3,464.8 L140.0,463.9 L140.6,463.0 L141.3,462.2 L142.0,461.5 L142.6,460.9 L143.3,460.3 L144.0,459.7 L144.6,459.2 L145.3,458.7 L146.0,458.3 L146.6,457.8 L147.3,457.4 L148.0,457.0 L148.6,456.6 L149.3,456.1 L150.0,455.7 L150.6,455.3 L151.3,454.8 L152.0,454.3 L152.6,453.8 L153.3,453.2 L154.0,452.6 L154.6,451.9 L155.3,451.2 L156.0,450.5 L156.6,449.8 L157.3,449.0 L158.0,448.2 L158.6,447.4 L159.3,446.6 L160.0,445.7 L160.6,444.9 L161.3,444.0 L162.0,443.1 L162.6,442.1 L163.3,441.2 L164.0,440.3 L164.6,439.3 L165.3,438.3 L166.0,437.3 L166.6,436.3 L167.3,435.3 L168.0,434.3 L168.6,433.2 L169.3,432.1 L170.0,431.0 L170.6,429.8 L171.3,428.6 L172.0,427.3 L172.6,426.0 L173.3,424.7 L174.0,423.3 L174.6,421.9 L175.3,420.4 L176.0,418.9 L176.6,417.4 L177.3,415.9 L178.0,414.4 L178.6,412.9 L179.3,411.5 L180.0,410.2 L180.6,408.9 L181.3,407.7 L182.0,406.7 L182.6,405.8 L183.3,405.0 L184.0,404.3 L184.6,403.8 L185.3,403.4 L186.0,403.1 L186.6,402.9 L187.3,402.8 L188.0,402.8 L188.6,402.9 L189.3,403.1 L190.0,403.3 L190.6,403.5 L191.3,403.9 L192.0,404.2 L192.6,404.6 L193.3,405.1 L194.0,405.5 L194.6,406.0 L195.3,406.5 L196.0,407.0 L196.6,407.4 L197.3,407.9 L198.0,408.4 L198.6,408.8 L199.3,409.2 L200.0,409.5 L200.6,409.9 L201.3,410.1 L202.0,410.3 L202.6,410.5 L203.3,410.6 L204.0,410.6 L204.6,410.5 L205.3,410.4 L206.0,410.2 L206.6,409.8 L207.3,409.4 L208.0,408.8 L208.6,408.2 L209.3,407.5 L210.0,406.7 L210.6,405.9 L211.3,405.0 L212.0,404.0 L212.6,403.1 L213.3,402.1 L214.0,401.1 L214.6,400.1 L215.3,399.1 L216.0,398.2 L216.6,397.3 L217.3,396.4 L218.0,395.6 L218.6,394.9 L219.3,394.3 L220.0,393.8 L220.6,393.5 L221.3,393.4 L222.0,393.5 L222.6,393.8 L223.3,394.5 L224.0,395.4 L224.6,396.6 L225.3,398.2 L226.0,400.0 L226.6,402.0 L227.3,404.2 L228.0,406.5 L228.6,408.9 L229.3,411.4 L230.0,413.9 L230.6,416.4 L231.3,418.8 L232.0,421.1 L232.6,423.2 L233.3,425.2 L234.0,427.1 L234.6,428.8 L235.3,430.4 L236.0,431.8 L236.6,433.2 L237.3,434.4 L238.0,435.6 L238.6,436.7 L239.3,437.6 L240.0,438.5 L240.6,439.3 L241.3,440.1 L242.0,440.8 L242.6,441.4 L243.3,441.9 L244.0,442.5 L244.6,442.9 L245.3,443.3 L246.0,443.7 L246.6,444.0 L247.3,444.2 L248.0,444.5 L248.6,444.7 L249.3,444.8 L250.0,445.0 L250.6,445.1 L251.3,445.2 L252.0,445.3 L252.6,445.4 L253.3,445.4 L254.0,445.4 L254.6,445.5 L255.3,445.5 L256.0,445.4 L256.6,445.4 L257.3,445.3 L258.0,445.2 L258.6,445.0 L259.3,444.8 L260.0,444.6 L260.6,444.3 L261.3,444.0 L262.0,443.6 L262.6,443.2 L263.3,442.7 L264.0,442.2 L264.6,441.6 L265.3,440.9 L266.0,440.2 L266.6,439.4 L267.3,438.6 L268.0,437.7 L268.6,436.7 L269.3,435.7 L270.0,434.7 L270.6,433.5 L271.3,432.4 L272.0,431.1 L272.6,429.8 L273.3,428.5 L274.0,427.1 L274.6,425.6 L275.3,424.1 L276.0,422.6 L276.6,421.0 L277.3,419.3 L278.0,417.6 L278.6,415.8 L279.3,414.0 L280.0,412.2 L280.6,410.3 L281.3,408.4 L282.0,406.6 L282.6,404.7 L283.3,402.8 L284.0,401.0 L284.6,399.2 L285.3,397.5 L286.0,395.9 L286.6,394.3 L287.3,392.8 L288.0,391.5 L288.6,390.2 L289.3,389.1 L290.0,388.1 L290.6,387.3 L291.3,386.6 L292.0,386.2 L292.6,386.0 L293.3,386.1 L294.0,386.4 L294.6,387.0 L295.3,387.9 L296.0,389.1 L296.6,390.6 L297.3,392.4 L298.0,394.5 L298.6,396.8 L299.3,399.3 L300.0,402.0 L300.6,404.8 L301.3,407.6 L302.0,410.5 L302.6,413.5 L303.3,416.3 L304.0,419.1 L304.6,421.9 L305.3,424.4 L306.0,426.9 L306.6,429.1 L307.3,431.1 L308.0,432.8 L308.6,434.3 L309.3,435.5 L310.0,436.3 L310.6,436.8 L311.3,437.0 L312.0,436.8 L312.6,436.3 L313.3,435.5 L314.0,434.4 L314.6,433.0 L315.3,431.3 L316.0,429.5 L316.6,427.3 L317.3,425.0 L318.0,422.5 L318.6,419.8 L319.3,417.0 L320.0,414.0 L320.6,410.9 L321.3,407.7 L322.0,404.5 L322.6,401.3 L323.3,398.1 L324.0,395.1 L324.6,392.1 L325.3,389.3 L326.0,386.6 L326.6,384.3 L327.3,382.1 L328.0,380.3 L328.6,378.8 L329.3,377.6 L330.0,376.7 L330.6,376.1 L331.3,375.8 L332.0,375.9 L332.6,376.3 L333.3,377.0 L334.0,378.0 L334.6,379.4 L335.3,381.1 L336.0,382.9 L336.6,385.0 L337.3,387.1 L338.0,389.2 L338.6,391.3 L339.3,393.2 L340.0,395.0 L340.6,396.6 L341.3,398.0 L342.0,399.3 L342.6,400.4 L343.3,401.3 L344.0,402.0 L344.6,402.6 L345.3,403.0 L346.0,403.2 L346.6,403.3 L347.3,403.3 L348.0,403.3 L348.6,403.1 L349.3,403.0 L350.0,402.8 L350.6,402.6 L351.3,402.4 L352.0,402.3 L352.6,402.2 L353.3,402.3 L354.0,402.4 L354.6,402.6 L355.3,402.8 L356.0,403.0 L356.6,403.3 L357.3,403.6 L358.0,403.8 L358.6,403.9 L359.3,404.0 L360.0,403.9 L360.6,403.8 L361.3,403.5 L362.0,403.1 L362.6,402.4 L363.3,401.6 L364.0,400.5 L364.6,399.2 L365.3,397.7 L366.0,395.8 L366.6,393.6 L367.3,391.2 L368.0,388.3 L368.6,385.2 L369.3,381.8 L370.0,378.4 L370.6,374.8 L371.3,371.3 L372.0,367.8 L372.6,364.6 L373.3,361.6 L374.0,358.9 L374.6,356.5 L375.3,354.3 L376.0,352.4 L376.6,350.6 L377.3,349.1 L378.0,347.8 L378.6,346.8 L379.3,345.9 L380.0,345.2 L380.6,344.8 L381.3,344.5 L382.0,344.5 L382.6,344.7 L383.3,345.0 L384.0,345.5 L384.6,346.2 L385.3,346.9 L386.0,347.7 L386.6,348.6 L387.3,349.4 L388.0,350.2 L388.6,351.0 L389.3,351.6 L390.0,352.1 L390.6,352.5 L391.3,352.6 L392.0,352.7 L392.7,352.7 L393.3,352.6 L394.0,352.5 L394.7,352.4 L395.3,352.3 L396.0,352.4 L396.7,352.5 L397.3,352.8 L398.0,353.2 L398.7,353.9 L399.3,354.7 L400.0,355.7 L400.7,356.8 L401.3,358.1 L402.0,359.5 L402.7,361.0 L403.3,362.6 L404.0,364.3 L404.7,366.1 L405.3,367.9 L406.0,369.8 L406.7,371.7 L407.3,373.7 L408.0,375.6 L408.7,377.6 L409.3,379.5 L410.0,381.4 L410.7,383.3 L411.3,385.1 L412.0,386.9 L412.7,388.6 L413.3,390.3 L414.0,392.0 L414.7,393.6 L415.3,395.2 L416.0,396.8 L416.7,398.3 L417.3,399.8 L418.0,401.3 L418.7,402.8 L419.3,404.2 L420.0,405.7 L420.7,407.1 L421.3,408.5 L422.0,409.9 L422.7,411.3 L423.3,412.7 L424.0,414.1 L424.7,415.6 L425.3,417.2 L426.0,418.8 L426.7,420.5 L427.3,422.2 L428.0,424.0 L428.7,426.0 L429.3,428.0 L430.0,430.2 L430.7,432.4 L431.3,434.8 L432.0,437.3 L432.7,439.8 L433.3,442.4 L434.0,445.0 L434.7,447.6 L435.3,450.1 L436.0,452.6 L436.7,455.0 L437.3,457.2 L438.0,459.4 L438.7,461.3 L439.3,463.1 L440.0,464.7 L440.7,466.2 L441.3,467.5 L442.0,468.6 L442.7,469.6 L443.3,470.5 L444.0,471.2 L444.7,471.8 L445.3,472.3 L446.0,472.7 L446.7,473.0 L447.3,473.2 L448.0,473.2 L448.7,473.3 L449.3,473.2 L450.0,473.1 L450.7,472.9 L451.3,472.6 L452.0,472.3 L452.7,472.0 L453.3,471.6 L454.0,471.2 L454.7,470.7 L455.3,470.3 L456.0,469.8 L456.7,469.4 L457.3,468.9 L458.0,468.5 L458.7,468.0 L459.3,467.6 L460.0,467.2 L460.7,466.8 L461.3,466.4 L462.0,466.1 L462.7,465.7 L463.3,465.4 L464.0,465.1 L464.7,464.8 L465.3,464.5 L466.0,464.3 L466.7,464.0 L467.3,463.8 L468.0,463.6 L468.7,463.5 L469.3,463.3 L470.0,463.2 L470.7,463.1 L471.3,463.0 L472.0,462.9 L472.7,462.9 L473.3,462.8 L474.0,462.8 L474.7,462.8 L475.3,462.7 L476.0,462.7 L476.7,462.6 L477.3,462.5 L478.0,462.3 L478.7,462.2 L479.3,461.9 L480.0,461.7 L480.7,461.3 L481.3,460.9 L482.0,460.5 L482.7,459.9 L483.3,459.3 L484.0,458.6 L484.7,457.8 L485.3,456.9 L486.0,456.0 L486.7,455.1 L487.3,454.1 L488.0,453.0 L488.7,452.0 L489.3,450.9 L490.0,449.8 L490.7,448.7 L491.3,447.5 L492.0,446.4 L492.7,445.3 L493.3,444.3 L494.0,443.2 L494.7,442.2 L495.3,441.3 L496.0,440.4 L496.7,439.5 L497.3,438.7 L498.0,438.0 L498.7,437.4 L499.3,436.8 L500.0,436.3 L500.7,435.9 L501.3,435.5 L502.0,435.1 L502.7,434.8 L503.3,434.6 L504.0,434.3 L504.7,434.1 L505.3,433.9 L506.0,433.7 L506.7,433.5 L507.3,433.3 L508.0,433.1 L508.7,432.9 L509.3,432.7 L510.0,432.5 L510.7,432.3 L511.3,432.0 L512.0,431.7 L512.7,431.4 L513.3,431.1 L514.0,430.8 L514.7,430.5 L515.3,430.1 L516.0,429.8 L516.7,429.4 L517.3,429.1 L518.0,428.7 L518.7,428.4 L519.3,428.0 L520.0,427.7 L520.7,427.3 L521.3,427.0 L522.0,426.7 L522.7,426.3 L523.3,426.0 L524.0,425.7 L524.7,425.4 L525.3,425.2 L526.0,424.9 L526.7,424.6 L527.3,424.4 L528.0,424.2 L528.7,423.9 L529.3,423.7 L530.0,423.4 L530.7,423.2 L531.3,422.9 L532.0,422.6 L532.7,422.3 L533.3,422.0 L534.0,421.7 L534.7,421.3 L535.3,420.9 L536.0,420.5 L536.7,420.0 L537.3,419.5 L538.0,418.9 L538.7,418.3 L539.3,417.7 L540.0,417.0 L540.7,416.3 L541.3,415.5 L542.0,414.7 L542.7,413.9 L543.3,412.9 L544.0,412.0 L544.7,411.0 L545.3,410.0 L546.0,408.9 L546.7,407.7 L547.3,406.6 L548.0,405.4 L548.7,404.1 L549.3,402.8 L550.0,401.5 L550.7,400.1 L551.3,398.7 L552.0,397.2 L552.7,395.8 L553.3,394.4 L554.0,393.0 L554.7,391.6 L555.3,390.3 L556.0,389.0 L556.7,387.9 L557.3,386.8 L558.0,385.9 L558.7,385.1 L559.3,384.4 L560.0,383.8 L560.7,383.5 L561.3,383.2 L562.0,383.1 L562.7,383.0 L563.3,383.1 L564.0,383.3 L564.7,383.5 L565.3,383.8 L566.0,384.2 L566.7,384.6 L567.3,385.1 L568.0,385.5 L568.7,386.0 L569.3,386.5 L570.0,386.9 L570.7,387.4 L571.3,387.9 L572.0,388.4 L572.7,388.9 L573.3,389.5 L574.0,390.1 L574.7,390.8 L575.3,391.6 L576.0,392.4 L576.7,393.3 L577.3,394.3 L578.0,395.4 L578.7,396.7 L579.3,398.0 L580.0,399.5 L580.7,401.1 L581.3,402.9 L582.0,404.7 L582.7,406.5 L583.3,408.4 L584.0,410.4 L584.7,412.3 L585.3,414.3 L586.0,416.2 L586.7,418.0 L587.3,419.9 L588.0,421.6 L588.7,423.2 L589.3,424.7 L590.0,426.1 L590.7,427.3 L591.3,428.4 L592.0,429.4 L592.7,430.2 L593.3,430.9 L594.0,431.5 L594.7,432.1 L595.3,432.6 L596.0,433.0 L596.7,433.5 L597.3,433.9 L598.0,434.3 L598.7,434.8 L599.3,435.3 L600.0,435.8 L600.7,436.4 L601.3,437.1 L602.0,437.8 L602.7,438.6 L603.3,439.5 L604.0,440.3 L604.7,441.3 L605.3,442.2 L606.0,443.1 L606.7,444.0 L607.3,444.9 L608.0,445.8 L608.7,446.7 L609.3,447.5 L610.0,448.2 L610.7,448.9 L611.3,449.5 L612.0,449.9 L612.7,450.3 L613.3,450.6 L614.0,450.9 L614.7,451.1 L615.3,451.2 L616.0,451.2 L616.7,451.3 L617.3,451.3 L618.0,451.3 L618.7,451.3 L619.3,451.2 L620.0,451.3 L620.7,451.3 L621.3,451.4 L622.0,451.5 L622.7,451.6 L623.3,451.9 L624.0,452.2 L624.7,452.5 L625.3,452.9 L626.0,453.4 L626.7,453.9 L627.3,454.5 L628.0,455.1 L628.7,455.7 L629.3,456.4 L630.0,457.0 L630.7,457.7 L631.3,458.4 L632.0,459.1 L632.7,459.8 L633.3,460.6 L634.0,461.3 L634.7,462.0 L635.3,462.6 L636.0,463.3 L636.7,464.0 L637.3,464.6 L638.0,465.2 L638.7,465.9 L639.3,466.5 L640.0,467.1 L640.7,467.7 L641.3,468.3 L642.0,468.8 L642.7,469.4 L643.3,470.0 L644.0,470.6 L644.7,471.1 L645.3,471.7 L646.0,472.3 L646.7,472.8 L647.3,473.4 L648.0,473.9 L648.7,474.5 L649.3,475.1 L650.0,475.6 L650.7,476.2 L651.3,476.7 L652.0,477.3 L652.7,477.8 L653.3,478.3 L654.0,478.8 L654.7,479.3 L655.3,479.8 L656.0,480.3 L656.7,480.8 L657.3,481.3 L658.0,481.7 L658.7,482.1 L659.3,482.5 L660.0,482.9 L660.7,483.3 L661.3,483.6 L662.0,484.0 L662.7,484.3 L663.3,484.5 L664.0,484.8 L664.7,485.0 L665.3,485.2 L666.0,485.4 L666.7,485.5 L667.3,485.7 L668.0,485.7 L668.7,485.9" stroke="#000"/>
</g>
<!-- frame -->
<g fill="none" stroke="#000" stroke-width="2">
<rect x="43.05" y="36.45" width="639.1500000000001" height="449.45"/>
<path d="M43.05,261.2 H682.2"/>
<path d="M42.75,36.45 v-6.9 M42.75,261.2 v6.9 M42.75,485.9 v6.9 M56.60,36.45 v-6.9 M56.60,261.2 v6.9 M56.60,485.9 v6.9 M70.45,36.45 v-13.2 M70.45,261.2 v13.2 M70.45,485.9 v13.2 M84.30,36.45 v-6.9 M84.30,261.2 v6.9 M84.30,485.9 v6.9 M98.15,36.45 v-6.9 M98.15,261.2 v6.9 M98.15,485.9 v6.9 M112.00,36.45 v-6.9 M112.00,261.2 v6.9 M112.00,485.9 v6.9 M125.85,36.45 v-6.9 M125.85,261.2 v6.9 M125.85,485.9 v6.9 M139.70,36.45 v-13.2 M139.70,261.2 v13.2 M139.70,485.9 v13.2 M153.55,36.45 v-6.9 M153.55,261.2 v6.9 M153.55,485.9 v6.9 M167.40,36.45 v-6.9 M167.40,261.2 v6.9 M167.40,485.9 v6.9 M181.25,36.45 v-6.9 M181.25,261.2 v6.9 M181.25,485.9 v6.9 M195.10,36.45 v-6.9 M195.10,261.2 v6.9 M195.10,485.9 v6.9 M208.95,36.45 v-13.2 M208.95,261.2 v13.2 M208.95,485.9 v13.2 M222.80,36.45 v-6.9 M222.80,261.2 v6.9 M222.80,485.9 v6.9 M236.65,36.45 v-6.9 M236.65,261.2 v6.9 M236.65,485.9 v6.9 M250.50,36.45 v-6.9 M250.50,261.2 v6.9 M250.50,485.9 v6.9 M264.35,36.45 v-6.9 M264.35,261.2 v6.9 M264.35,485.9 v6.9 M278.20,36.45 v-13.2 M278.20,261.2 v13.2 M278.20,485.9 v13.2 M292.05,36.45 v-6.9 M292.05,261.2 v6.9 M292.05,485.9 v6.9 M305.90,36.45 v-6.9 M305.90,261.2 v6.9 M305.90,485.9 v6.9 M319.75,36.45 v-6.9 M319.75,261.2 v6.9 M319.75,485.9 v6.9 M333.60,36.45 v-6.9 M333.60,261.2 v6.9 M333.60,485.9 v6.9 M347.45,36.45 v-13.2 M347.45,261.2 v13.2 M347.45,485.9 v13.2 M361.30,36.45 v-6.9 M361.30,261.2 v6.9 M361.30,485.9 v6.9 M375.15,36.45 v-6.9 M375.15,261.2 v6.9 M375.15,485.9 v6.9 M389.00,36.45 v-6.9 M389.00,261.2 v6.9 M389.00,485.9 v6.9 M402.85,36.45 v-6.9 M402.85,261.2 v6.9 M402.85,485.9 v6.9 M416.70,36.45 v-13.2 M416.70,261.2 v13.2 M416.70,485.9 v13.2 M430.55,36.45 v-6.9 M430.55,261.2 v6.9 M430.55,485.9 v6.9 M444.40,36.45 v-6.9 M444.40,261.2 v6.9 M444.40,485.9 v6.9 M458.25,36.45 v-6.9 M458.25,261.2 v6.9 M458.25,485.9 v6.9 M472.10,36.45 v-6.9 M472.10,261.2 v6.9 M472.10,485.9 v6.9 M485.95,36.45 v-13.2 M485.95,261.2 v13.2 M485.95,485.9 v13.2 M499.80,36.45 v-6.9 M499.80,261.2 v6.9 M499.80,485.9 v6.9 M513.65,36.45 v-6.9 M513.65,261.2 v6.9 M513.65,485.9 v6.9 M527.50,36.45 v-6.9 M527.50,261.2 v6.9 M527.50,485.9 v6.9 M541.35,36.45 v-6.9 M541.35,261.2 v6.9 M541.35,485.9 v6.9 M555.20,36.45 v-13.2 M555.20,261.2 v13.2 M555.20,485.9 v13.2 M569.05,36.45 v-6.9 M569.05,261.2 v6.9 M569.05,485.9 v6.9 M582.90,36.45 v-6.9 M582.90,261.2 v6.9 M582.90,485.9 v6.9 M596.75,36.45 v-6.9 M596.75,261.2 v6.9 M596.75,485.9 v6.9 M610.60,36.45 v-6.9 M610.60,261.2 v6.9 M610.60,485.9 v6.9 M624.45,36.45 v-13.2 M624.45,261.2 v13.2 M624.45,485.9 v13.2 M638.30,36.45 v-6.9 M638.30,261.2 v6.9 M638.30,485.9 v6.9 M652.15,36.45 v-6.9 M652.15,261.2 v6.9 M652.15,485.9 v6.9 M666.00,36.45 v-6.9 M666.00,261.2 v6.9 M666.00,485.9 v6.9 M679.85,36.45 v-6.9 M679.85,261.2 v6.9 M679.85,485.9 v6.9 M43.05,247.15 h6.1 M682.2,247.15 h-6.1 M43.05,233.11 h12.2 M682.2,233.11 h-12.2 M43.05,219.06 h6.1 M682.2,219.06 h-6.1 M43.05,205.01 h12.2 M682.2,205.01 h-12.2 M43.05,190.97 h6.1 M682.2,190.97 h-6.1 M43.05,176.92 h12.2 M682.2,176.92 h-12.2 M43.05,162.87 h6.1 M682.2,162.87 h-6.1 M43.05,148.82 h12.2 M682.2,148.82 h-12.2 M43.05,134.78 h6.1 M682.2,134.78 h-6.1 M43.05,120.73 h12.2 M682.2,120.73 h-12.2 M43.05,106.68 h6.1 M682.2,106.68 h-6.1 M43.05,92.64 h12.2 M682.2,92.64 h-12.2 M43.05,78.59 h6.1 M682.2,78.59 h-6.1 M43.05,64.54 h12.2 M682.2,64.54 h-12.2 M43.05,50.50 h6.1 M682.2,50.50 h-6.1 M43.05,471.88 h6.1 M682.2,471.88 h-6.1 M43.05,457.87 h12.2 M682.2,457.87 h-12.2 M43.05,443.85 h6.1 M682.2,443.85 h-6.1 M43.05,429.84 h12.2 M682.2,429.84 h-12.2 M43.05,415.82 h6.1 M682.2,415.82 h-6.1 M43.05,401.81 h12.2 M682.2,401.81 h-12.2 M43.05,387.79 h6.1 M682.2,387.79 h-6.1 M43.05,373.78 h12.2 M682.2,373.78 h-12.2 M43.05,359.76 h6.1 M682.2,359.76 h-6.1 M43.05,345.75 h12.2 M682.2,345.75 h-12.2 M43.05,331.73 h6.1 M682.2,331.73 h-6.1 M43.05,317.72 h12.2 M682.2,317.72 h-12.2 M43.05,303.70 h6.1 M682.2,303.70 h-6.1 M43.05,289.69 h12.2 M682.2,289.69 h-12.2 M43.05,275.67 h6.1 M682.2,275.67 h-6.1"/>
</g>
<!-- tick labels -->
<g class="tk">
<text transform="translate(70.7,14.2) scale(0.975,1)" text-anchor="middle">-2,5</text>
<text transform="translate(140.0,16.2) scale(0.975,1)" text-anchor="middle">-2</text>
<text transform="translate(209.2,14.2) scale(0.975,1)" text-anchor="middle">-1,5</text>
<text transform="translate(278.5,16.2) scale(0.975,1)" text-anchor="middle">-1</text>
<text transform="translate(347.8,14.2) scale(0.975,1)" text-anchor="middle">-0,5</text>
<text transform="translate(417.0,16.2) scale(0.975,1)" text-anchor="middle">0</text>
<text transform="translate(486.2,14.2) scale(0.975,1)" text-anchor="middle">0,5</text>
<text transform="translate(555.5,16.2) scale(0.975,1)" text-anchor="middle">1</text>
<text transform="translate(624.8,14.2) scale(0.975,1)" text-anchor="middle">1,5</text>
<text transform="translate(70.7,518.8) scale(0.975,1)" text-anchor="middle">-2,5</text>
<text transform="translate(140.0,518.8) scale(0.975,1)" text-anchor="middle">-2</text>
<text transform="translate(209.2,518.8) scale(0.975,1)" text-anchor="middle">-1,5</text>
<text transform="translate(278.5,518.8) scale(0.975,1)" text-anchor="middle">-1</text>
<text transform="translate(347.8,518.8) scale(0.975,1)" text-anchor="middle">-0,5</text>
<text transform="translate(417.0,518.8) scale(0.975,1)" text-anchor="middle">0</text>
<text transform="translate(486.2,518.8) scale(0.975,1)" text-anchor="middle">0,5</text>
<text transform="translate(555.5,518.8) scale(0.975,1)" text-anchor="middle">1</text>
<text transform="translate(624.8,518.8) scale(0.975,1)" text-anchor="middle">1,5</text>
<text transform="translate(37.7,239.6) scale(0.975,1)" text-anchor="end">1</text>
<text transform="translate(37.7,211.5) scale(0.975,1)" text-anchor="end">2</text>
<text transform="translate(37.7,183.4) scale(0.975,1)" text-anchor="end">3</text>
<text transform="translate(37.7,155.3) scale(0.975,1)" text-anchor="end">4</text>
<text transform="translate(37.7,127.2) scale(0.975,1)" text-anchor="end">5</text>
<text transform="translate(37.7,99.1) scale(0.975,1)" text-anchor="end">6</text>
<text transform="translate(37.7,71.0) scale(0.975,1)" text-anchor="end">7</text>
<text transform="translate(37.7,42.9) scale(0.975,1)" text-anchor="end">8</text>
<text transform="translate(37.7,492.4) scale(0.975,1)" text-anchor="end">0</text>
<text transform="translate(37.7,464.4) scale(0.975,1)" text-anchor="end">1</text>
<text transform="translate(37.7,436.3) scale(0.975,1)" text-anchor="end">2</text>
<text transform="translate(37.7,408.3) scale(0.975,1)" text-anchor="end">3</text>
<text transform="translate(37.7,380.3) scale(0.975,1)" text-anchor="end">4</text>
<text transform="translate(37.7,352.2) scale(0.975,1)" text-anchor="end">5</text>
<text transform="translate(37.7,324.2) scale(0.975,1)" text-anchor="end">6</text>
<text transform="translate(37.7,296.2) scale(0.975,1)" text-anchor="end">7</text>
</g>
<!-- labels -->
<text transform="translate(308.78,541.90) scale(1.0384,1)" font-size="20.3">Energy [eV]</text>
<text transform="translate(17.10,247.36) rotate(-90) scale(1.0065,1)" font-size="20.5">DOS [states/(eV*f.u.)]</text>
<text transform="translate(17.10,472.36) rotate(-90) scale(1.0065,1)" font-size="20.5">DOS [states/(eV*f.u.)]</text>
<text transform="translate(78.23,78.00) scale(1.0990,1)" font-size="23" font-weight="bold">(a)</text>
<text transform="translate(117.48,78.00) scale(1.0769,1)" font-size="23" font-weight="bold">FeO</text>
<text transform="translate(165.84,87.60) scale(1.1152,1)" font-size="17" font-weight="bold">2</text>
<text transform="translate(78.74,308.00) scale(1.1704,1)" font-size="23" font-weight="bold">(b)</text>
<text transform="translate(120.17,308.00) scale(1.0888,1)" font-size="23" font-weight="bold">FeO</text>
<text transform="translate(168.42,318.90) scale(1.1636,1)" font-size="17" font-weight="bold">2</text>
<text transform="translate(179.01,308.00) scale(1.0629,1)" font-size="23" font-weight="bold">:Na</text>
<text transform="translate(88.00,131.50) scale(1.0000,1)" font-size="22.6" font-weight="bold" font-style="italic" style="fill:#670748">t</text>
<text transform="translate(96.03,140.40) scale(0.9282,1)" font-size="16.8" font-weight="bold" font-style="italic" style="fill:#670748">2g</text>
<text transform="translate(117.55,132.50) scale(1.0000,1)" font-size="20" font-weight="bold" font-style="italic" style="fill:#670748">+</text>
<text transform="translate(136.59,131.40) scale(1.2200,1)" font-size="18" style="fill:#670748">σ</text>
<text transform="translate(150.65,124.00) scale(0.9846,1)" font-size="18" style="fill:#8a3a72">*</text>
<text transform="translate(521.80,163.30) scale(1.0000,1)" font-size="22.6" font-weight="bold" font-style="italic" style="fill:#670748">t</text>
<text transform="translate(530.42,172.00) scale(0.8974,1)" font-size="16.8" font-weight="bold" font-style="italic" style="fill:#670748">2g</text>
<text transform="translate(554.02,162.00) scale(0.9565,1)" font-size="21" font-weight="bold" font-style="italic" style="fill:#670748">-</text>
<text transform="translate(566.19,163.20) scale(1.2100,1)" font-size="18" style="fill:#670748">σ</text>
<text transform="translate(579.57,155.70) scale(0.9385,1)" font-size="18" style="fill:#8a3a72">*</text>
<text transform="translate(297.42,111.00) scale(0.9615,1)" font-size="22.5" font-weight="bold" font-style="italic" style="fill:#1414e0">Fe t</text>
<text transform="translate(336.33,119.80) scale(0.9091,1)" font-size="16.6" font-weight="bold" font-style="italic" style="fill:#1414e0">2g</text>
<text transform="translate(584.88,70.10) scale(1.0469,1)" font-size="20">Total</text>
<text transform="translate(584.20,92.90) scale(1.0048,1)" font-size="20">O 2p</text>
<text transform="translate(583.61,116.30) scale(1.0229,1)" font-size="20">Fe 3d</text>
<!-- legend -->
<g fill="none" stroke-width="1.7">
<path d="M545.4,63.1 H571.2" stroke="#000"/>
<path d="M545.4,86.4 H571.2" stroke="#dc1420" stroke-dasharray="9.7 5.9"/>
<path d="M545.4,109.7 H571.2" stroke="#1414dc"/>
</g>
</svg>
</body></html>
